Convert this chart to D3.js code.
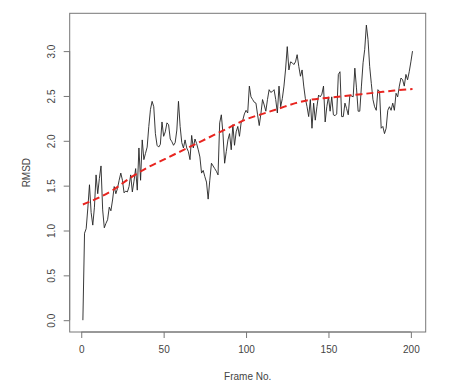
<!DOCTYPE html>
<html>
<head>
<meta charset="utf-8">
<script src="https://cdn.jsdelivr.net/npm/d3@7"></script>
<style>
  html, body { margin: 0; padding: 0; background: #fff; }
  svg { display: block; font-family: "Liberation Sans", Arial, sans-serif; }
</style>
</head>
<body>
<div id="chart"></div>
<script>
// RMSD per frame, frames 1..201
const rmsd = [
  0.00, 0.97, 1.02, 1.25, 1.51, 1.20, 1.06, 1.26, 1.62, 1.41,
  1.58, 1.72, 1.23, 1.03, 1.08, 1.12, 1.26, 1.22, 1.34, 1.49,
  1.41, 1.47, 1.56, 1.64, 1.56, 1.42, 1.44, 1.43, 1.49, 1.62,
  1.43, 1.55, 1.69, 1.45, 1.92, 1.56, 2.01, 1.79, 1.86, 1.93,
  2.16, 2.35, 2.44, 2.38, 2.08, 1.95, 1.93, 1.96, 2.21, 2.05,
  2.10, 2.20, 2.18, 2.02, 1.99, 1.95, 1.98, 2.12, 2.44, 2.16,
  1.98, 1.92, 2.01, 1.92, 1.88, 1.79, 2.06, 1.92, 2.02, 1.97,
  1.90, 1.82, 1.64, 1.67, 1.60, 1.54, 1.35, 1.56, 1.75, 1.72,
  1.69, 1.66, 1.62, 2.20, 2.29, 2.08, 1.75, 1.88, 2.01, 2.08,
  1.90, 2.18, 1.95, 2.10, 2.16, 2.05, 2.20, 2.23, 2.30, 2.34,
  2.31, 2.61, 2.49, 2.46, 2.43, 2.42, 2.29, 2.17, 2.30, 2.46,
  2.40, 2.33, 2.46, 2.57, 2.54, 2.55, 2.57, 2.46, 2.31, 2.61,
  2.38, 2.47, 2.61, 2.80, 3.05, 2.79, 2.88, 2.87, 2.85, 2.88,
  2.96, 2.83, 2.72, 2.79, 2.61, 2.47, 2.38, 2.27, 2.46, 2.14,
  2.42, 2.23, 2.38, 2.51, 2.49, 2.52, 2.61, 2.21, 2.38, 2.49,
  2.33, 2.49, 2.29, 2.28, 2.30, 2.74, 2.77, 2.27, 2.27, 2.42,
  2.36, 2.29, 2.51, 2.50, 2.49, 2.81, 2.59, 2.33, 2.33, 2.61,
  2.87, 3.02, 3.29, 3.13, 2.83, 2.64, 2.46, 2.38, 2.34, 2.57,
  2.55, 2.14, 2.16, 2.08, 2.14, 2.34, 2.38, 2.34, 2.42, 2.34,
  2.53, 2.49, 2.61, 2.70, 2.68, 2.61, 2.74, 2.68, 2.77, 2.88,
  3.00
];

// red dashed trend (smooth fit)
const trendFrames = [1, 10, 20, 30, 40, 50, 60, 70, 80, 90, 100, 110, 120, 130, 140, 150, 160, 170, 180, 190, 201];
const trendValues = [1.29, 1.36, 1.46, 1.59, 1.70, 1.79, 1.88, 1.97, 2.06, 2.15, 2.24, 2.30, 2.36, 2.42, 2.46, 2.48, 2.50, 2.52, 2.54, 2.56, 2.578];

// tick labels
const xTicks = [0, 50, 100, 150, 200];
const yTicks = [0.0, 0.5, 1.0, 1.5, 2.0, 2.5, 3.0];

const xLabel = 'Frame No.';
const yLabel = 'RMSD';

const width = 473;
const height = 392;
const plot = { left: 69.7, right: 425.7, top: 13.3, bottom: 332 };

const frames = rmsd.map((d, i) => i + 1);
const points = rmsd.map((d, i) => ({ frame: frames[i], value: d }));
const trend = trendFrames.map((f, i) => ({ frame: f, value: trendValues[i] }));

// R style 4% padding on each side
function padded(extent) {
  const pad = (extent[1] - extent[0]) * 0.04;
  return [extent[0] - pad, extent[1] + pad];
}

const xScale = d3.scaleLinear()
  .domain(padded(d3.extent(frames)))
  .range([plot.left, plot.right]);

const yScale = d3.scaleLinear()
  .domain(padded(d3.extent(rmsd)))
  .range([plot.bottom, plot.top]);

const svg = d3.select('#chart').append('svg')
  .attr('width', width)
  .attr('height', height);

// data line
const line = d3.line()
  .x(d => xScale(d.frame))
  .y(d => yScale(d.value));

svg.append('path')
  .datum(points)
  .attr('fill', 'none')
  .attr('stroke', '#222')
  .attr('stroke-width', 0.9)
  .attr('stroke-linejoin', 'round')
  .attr('d', line);

// trend
const trendLine = d3.line()
  .curve(d3.curveMonotoneX)
  .x(d => xScale(d.frame))
  .y(d => yScale(d.value));

svg.append('path')
  .datum(trend)
  .attr('fill', 'none')
  .attr('stroke', '#e8241f')
  .attr('stroke-width', 2)
  .attr('stroke-dasharray', '7,4')
  .attr('d', trendLine);

// box
svg.append('rect')
  .attr('x', plot.left)
  .attr('y', plot.top)
  .attr('width', plot.right - plot.left)
  .attr('height', plot.bottom - plot.top)
  .attr('fill', 'none')
  .attr('stroke', '#777')
  .attr('stroke-width', 1);

// axes
const xAxis = svg.append('g')
  .attr('transform', `translate(0,${plot.bottom})`)
  .call(d3.axisBottom(xScale).tickValues(xTicks).tickSize(6).tickPadding(8).tickFormat(d3.format('d')));

const yAxis = svg.append('g')
  .attr('transform', `translate(${plot.left},0)`)
  .call(d3.axisLeft(yScale).tickValues(yTicks).tickSize(6).tickPadding(0).tickFormat(d3.format('.1f')));

// R draws the axis line only from first to last tick
xAxis.select('.domain')
  .attr('d', `M${xScale(xTicks[0])},0H${xScale(xTicks[xTicks.length - 1])}`);
yAxis.select('.domain')
  .attr('d', `M0,${yScale(yTicks[0])}V${yScale(yTicks[yTicks.length - 1])}`);

svg.selectAll('.domain, .tick line')
  .attr('stroke', '#777');

svg.selectAll('.tick text')
  .attr('fill', '#444')
  .style('font-size', '10px')
  .style('font-family', '"Liberation Sans", Arial, sans-serif');

// y labels run along the axis
yAxis.selectAll('.tick text')
  .attr('x', null)
  .attr('dy', null)
  .attr('text-anchor', 'middle')
  .attr('dominant-baseline', 'central')
  .attr('transform', `translate(${51.7 - plot.left},0) rotate(-90)`);

// axis titles
svg.append('text')
  .attr('x', (plot.left + plot.right) / 2)
  .attr('y', 376)
  .attr('text-anchor', 'middle')
  .attr('dominant-baseline', 'central')
  .attr('fill', '#444')
  .style('font-size', '10px')
  .text(xLabel);

svg.append('text')
  .attr('transform', `translate(26.7,${(plot.top + plot.bottom) / 2}) rotate(-90)`)
  .attr('text-anchor', 'middle')
  .attr('dominant-baseline', 'central')
  .attr('fill', '#444')
  .style('font-size', '10px')
  .text(yLabel);
</script>
</body>
</html>
